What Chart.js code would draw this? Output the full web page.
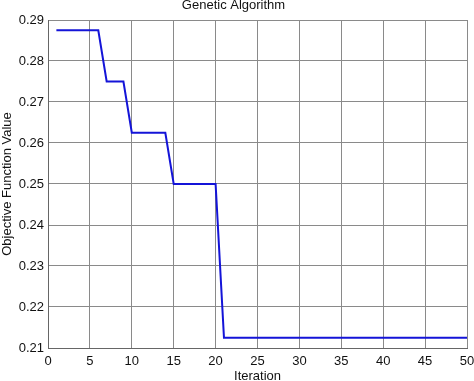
<!DOCTYPE html>
<html>
<head>
<meta charset="utf-8">
<script src="https://cdn.jsdelivr.net/npm/chart.js@4/dist/chart.umd.min.js"></script>
<style>
html,body{margin:0;padding:0;background:#fff;}
#wrap{width:474px;height:381px;position:relative;}
</style>
</head>
<body>
<div id="wrap"><canvas id="c"></canvas></div>
<script>
const chartTitle = "Genetic Algorithm";
const xLabel = "Iteration";
const yLabel = "Objective Function Value";
const iterations = [1,2,3,4,5,6,7,8,9,10,11,12,13,14,15,16,17,18,19,20,21,22,23,24,25,26,27,28,29,30,31,32,33,34,35,36,37,38,39,40,41,42,43,44,45,46,47,48,49,50];
const objectiveValues = [
  0.2875,0.2875,0.2875,0.2875,0.2875,0.2875,
  0.2750,0.2750,0.2750,
  0.2625,0.2625,0.2625,0.2625,0.2625,
  0.2500,0.2500,0.2500,0.2500,0.2500,0.2500,
  0.2125,0.2125,0.2125,0.2125,0.2125,0.2125,0.2125,0.2125,0.2125,0.2125,
  0.2125,0.2125,0.2125,0.2125,0.2125,0.2125,0.2125,0.2125,0.2125,0.2125,
  0.2125,0.2125,0.2125,0.2125,0.2125,0.2125,0.2125,0.2125,0.2125,0.2125
];
const xTicks = [0,5,10,15,20,25,30,35,40,45,50];
const yTicks = [0.21,0.22,0.23,0.24,0.25,0.26,0.27,0.28,0.29];

Chart.defaults.font.family = '"Liberation Sans", Arial, sans-serif';
Chart.defaults.color = '#111';

const points = iterations.map((x, i) => ({x: x, y: objectiveValues[i]}));

new Chart(document.getElementById('c'), {
  type: 'line',
  data: {
    datasets: [{
      data: points,
      borderColor: '#1414d8',
      borderWidth: 2,
      pointRadius: 0,
      tension: 0,
      fill: false
    }]
  },
  options: {
    responsive: true,
    maintainAspectRatio: false,
    animation: false,
    layout: {padding: {left: 0, right: 7, top: 0, bottom: 0}},
    plugins: {
      legend: {display: false},
      tooltip: {enabled: false},
      title: {
        display: true,
        text: chartTitle,
        color: '#111',
        font: {size: 13, weight: 'normal', lineHeight: 1.2},
        padding: {top: -2, bottom: 6.4}
      }
    },
    scales: {
      x: {
        type: 'linear',
        min: 0, max: 50,
        afterBuildTicks: s => { s.ticks = xTicks.map(v => ({value: v})); },
        ticks: {
          font: {size: 13},
          color: '#111',
          padding: 6,
          maxRotation: 0,
          autoSkip: false,
          callback: v => String(v)
        },
        grid: {color: '#8a8a8a', lineWidth: 1, drawTicks: false},
        border: {display: true, color: '#666', width: 1},
        title: {display: true, text: xLabel, color: '#111', font: {size: 13}, padding: {top: 0, bottom: -3}},
        afterFit: s => { s.height = 33; s.paddingLeft = 0; s.paddingRight = 0; }
      },
      y: {
        type: 'linear',
        min: 0.21, max: 0.29,
        afterBuildTicks: s => { s.ticks = yTicks.map(v => ({value: v})); },
        ticks: {
          font: {size: 13},
          color: '#111',
          padding: 4,
          autoSkip: false,
          callback: v => Number(v).toFixed(2)
        },
        grid: {color: '#8a8a8a', lineWidth: 1, drawTicks: false},
        border: {display: true, color: '#666', width: 1},
        title: {display: true, text: yLabel, color: '#111', font: {size: 13}, padding: {top: 0, bottom: 2}},
        afterFit: s => { s.width = 48; s.paddingTop = 0; s.paddingBottom = 0; }
      }
    }
  }
});
</script>
</body>
</html>
